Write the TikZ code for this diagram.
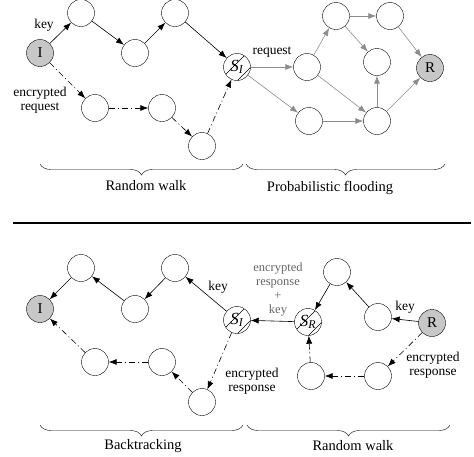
\documentclass[tikz,border=0pt]{standalone}
\usepackage{fontspec}
\setmainfont{Liberation Serif}
\usetikzlibrary{arrows.meta,decorations.pathreplacing}
\tikzset{
    % Peer styles
    peer/.style={circle, draw, thin, minimum size=27pt, inner sep=0pt, font=\fontsize{15}{15}\selectfont},
    endpeer/.style={peer, fill=black!22},
    superpeer/.style={peer, font=\fontsize{17}{17}\selectfont, path picture={
        \draw ([shift={(-18pt,-14pt)}]path picture bounding box.center) -- ++(30pt,30pt);
        \draw ([shift={(-6pt,-20pt)}]path picture bounding box.center) -- ++(30pt,30pt);}},
    % Connector styles
    walk/.style={-{Latex[length=8pt,width=6pt]}, semithick},
    secret/.style={walk, dash pattern=on 6pt off 3pt on 1pt off 3pt},
    flood/.style={-{Latex[length=8pt,width=6pt]}, semithick, black!45},
    % Text styles
    lbl/.style={font=\fontsize{13.5}{14.5}\selectfont, align=center},
    note/.style={font=\fontsize{12.5}{14}\selectfont, align=center, text=black!60},
    phase/.style={font=\fontsize{14.5}{15}\selectfont},
    brace/.style={decorate, decoration={brace, mirror, amplitude=11pt}, thin}
}
\begin{document}
\begin{tikzpicture}[x=1pt, y=-1pt]
    \useasboundingbox (0,0) rectangle (474,456);

    % Request: random walk
    \node[endpeer] (ti) at (40,53) {I};
    \node[peer] (ta1) at (81,13) {};
    \node[peer] (ta2) at (135,53) {};
    \node[peer] (ta3) at (175,13) {};
    \node[superpeer] (ts) at (237,67) {\textit{S}\textsubscript{\textit{I}}};
    \node[peer] (tb1) at (95,108) {};
    \node[peer] (tb2) at (162,108) {};
    \node[peer] (tb3) at (202,146) {};

    \draw[walk] (ti) -- (ta1);
    \draw[walk] (ta1) -- (ta2);
    \draw[walk] (ta2) -- (ta3);
    \draw[walk] (ta3) -- (ts);
    \draw[secret] (ti) -- (tb1);
    \draw[secret] (tb1) -- (tb2);
    \draw[secret] (tb2) -- (tb3);
    \draw[secret] (tb3) -- (ts);

    \node[lbl] (tkey) at (44,25) {key};
    \node[lbl] (tenc) at (40,100) {encrypted\\request};

    % Request: probabilistic flooding
    \node[peer] (fa) at (307,67) {};
    \node[peer] (fb) at (336,16) {};
    \node[peer] (fc) at (390,16) {};
    \node[peer] (fd) at (377,62) {};
    \node[peer] (fe) at (309,121) {};
    \node[peer] (ff) at (377,121) {};
    \node[endpeer] (tr) at (430,68) {R};

    \draw[flood] (ts) -- (fa);
    \draw[flood] (ts) -- (fe);
    \draw[flood] (fa) -- (fb);
    \draw[flood] (fa) -- (ff);
    \draw[flood] (fb) -- (fc);
    \draw[flood] (fb) -- (fd);
    \draw[flood] (fc) -- (tr);
    \draw[flood] (fe) -- (ff);
    \draw[flood] (ff) -- (fd);
    \draw[flood] (ff) -- (tr);

    \node[lbl] (treq) at (272,52) {request};

    % Braces (top)
    \draw[brace] (40,164) -- (243,164);
    \draw[brace] (246,164) -- (445,164);
    \node[phase] (trw) at (146,186) {Random walk};
    \node[phase] (tpf) at (330,188) {Probabilistic flooding};

    % Separator
    \draw[line width=2.5pt] (13,223) -- (471,223);

    % Response: backtracking
    \node[endpeer] (bi) at (40,309) {I};
    \node[peer] (ba1) at (81,268) {};
    \node[peer] (ba2) at (135,309) {};
    \node[peer] (ba3) at (175,268) {};
    \node[superpeer] (bs) at (237,320) {\textit{S}\textsubscript{\textit{I}}};
    \node[peer] (bb1) at (95,362) {};
    \node[peer] (bb2) at (162,362) {};
    \node[peer] (bb3) at (202,402) {};

    \draw[walk] (bs) -- (ba3);
    \draw[walk] (ba3) -- (ba2);
    \draw[walk] (ba2) -- (ba1);
    \draw[walk] (ba1) -- (bi);
    \draw[secret] (bs) -- (bb3);
    \draw[secret] (bb3) -- (bb2);
    \draw[secret] (bb2) -- (bb1);
    \draw[secret] (bb1) -- (bi);

    \node[lbl] (bkey) at (218,287) {key};
    \node[lbl] (benc) at (252,381) {encrypted\\response};

    % Response: random walk
    \node[superpeer] (bsr) at (308,322) {\textit{S}\textsubscript{\textit{R}}};
    \node[peer] (bc1) at (337,272) {};
    \node[peer] (bc2) at (378,317) {};
    \node[endpeer] (br) at (432,323) {R};
    \node[peer] (bd1) at (311,376) {};
    \node[peer] (bd2) at (378,376) {};

    \draw[walk] (br) -- (bc2);
    \draw[walk] (bc2) -- (bc1);
    \draw[walk] (bc1) -- (bsr);
    \draw[walk] (bsr) -- (bs);
    \draw[secret] (br) -- (bd2);
    \draw[secret] (bd2) -- (bd1);
    \draw[secret] (bd1) -- (bsr);

    \node[lbl] (rkey) at (405,307) {key};
    \node[lbl] (renc) at (433,365) {encrypted\\response};
    \node[note] (mid) at (278,290) {encrypted\\response\\+\\key};

    % Braces (bottom)
    \draw[brace] (40,425) -- (243,425);
    \draw[brace] (247,425) -- (450,425);
    \node[phase] (bbt) at (143,446) {Backtracking};
    \node[phase] (brw) at (353,446) {Random walk};
\end{tikzpicture}
\end{document}
